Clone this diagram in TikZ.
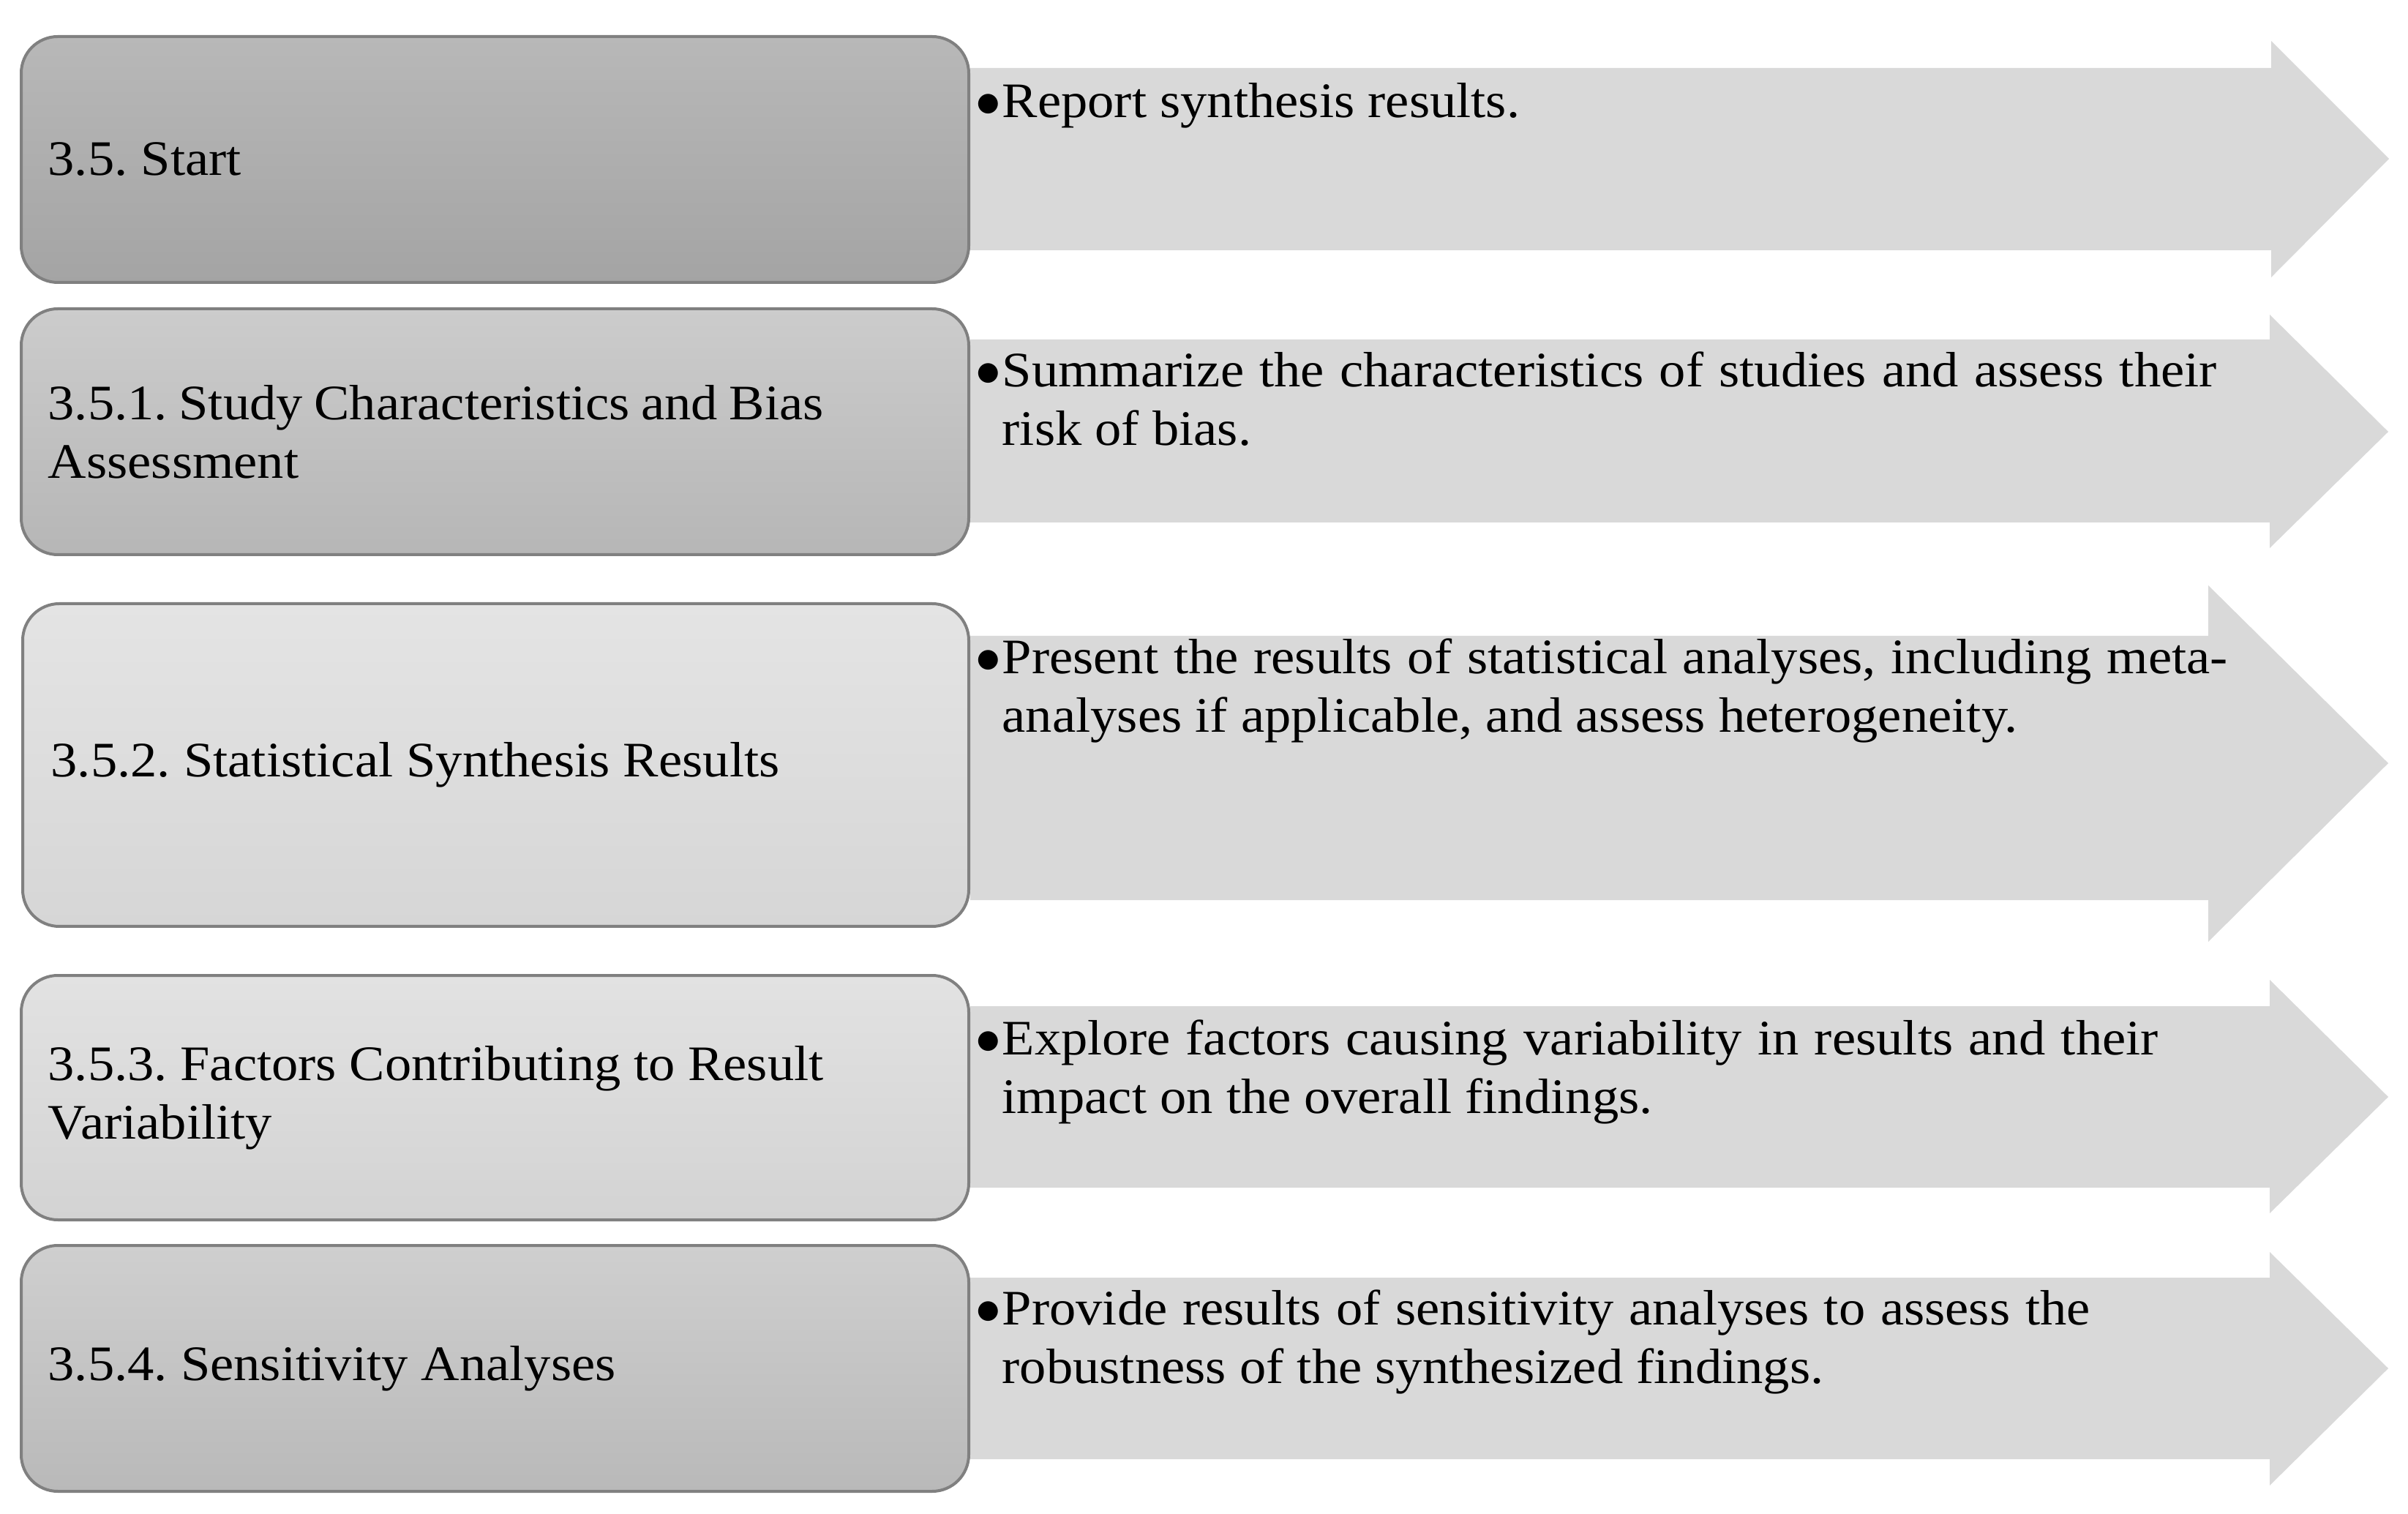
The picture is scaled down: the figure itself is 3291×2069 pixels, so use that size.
\documentclass[tikz,border=0pt]{standalone}
\usepackage{fontspec}
\setmainfont{Liberation Serif}[FakeStretch=1.07]
\newcommand\mainfs{\fontsize{19.3}{22.76}\selectfont\frenchspacing}
\newcommand\bigbul{\makebox[3.2mm][l]{\hspace*{-0.4mm}\raisebox{0.02em}{\scalebox{0.95}{$\bullet$}}}}
\definecolor{boxline}{HTML}{808080}
\definecolor{arrowgray}{HTML}{D9D9D9}
\definecolor{ga}{HTML}{B8B8B8}
\definecolor{gb}{HTML}{A4A4A4}
\definecolor{gc}{HTML}{CCCCCC}
\definecolor{gd}{HTML}{B6B6B6}
\definecolor{ge}{HTML}{E4E4E4}
\definecolor{gf}{HTML}{D6D6D6}
\definecolor{gg}{HTML}{E2E2E2}
\definecolor{gh}{HTML}{D3D3D3}
\definecolor{gi}{HTML}{CFCFCF}
\definecolor{gj}{HTML}{B9B9B9}
\begin{document}
\begin{tikzpicture}[x=0.1mm,y=-0.1mm,
  box/.style={draw=boxline, line width=0.4mm, rounded corners=5mm, anchor=north west, minimum width=129.5mm, inner sep=0},
  lbl/.style={anchor=west, inner sep=0, font=\mainfs, text width=106mm, align=justify},
  bul/.style={anchor=north west, inner sep=0, font=\mainfs}]
\useasboundingbox[fill=white] (0,0) rectangle (3291,2069);
% arrows
\fill[arrowgray] (1326,93) -- (3104,93) -- (3104,56) -- (3265,217) -- (3104,379) -- (3104,342) -- (1326,342) -- cycle;
\fill[arrowgray] (1326,464) -- (3102,464) -- (3102,430) -- (3264,590) -- (3102,749) -- (3102,714) -- (1326,714) -- cycle;
\fill[arrowgray] (1326,869) -- (3018,869) -- (3018,800) -- (3264,1043) -- (3018,1287) -- (3018,1230) -- (1326,1230) -- cycle;
\fill[arrowgray] (1326,1375) -- (3102,1375) -- (3102,1339) -- (3264,1499) -- (3102,1658) -- (3102,1623) -- (1326,1623) -- cycle;
\fill[arrowgray] (1326,1746) -- (3102,1746) -- (3102,1711) -- (3264,1870) -- (3102,2030) -- (3102,1994) -- (1326,1994) -- cycle;
% boxes
\node[box, top color=ga, bottom color=gb, minimum height=33.6mm] (b1) at (27,48) {};
\node[box, top color=gc, bottom color=gd, minimum height=33.6mm] (b2) at (27,420) {};
\node[box, top color=ge, bottom color=gf, minimum height=44.1mm, minimum width=129.3mm] (b3) at (29,823) {};
\node[box, top color=gg, bottom color=gh, minimum height=33.4mm] (b4) at (27,1331) {};
\node[box, top color=gi, bottom color=gj, minimum height=33.6mm] (b5) at (27,1700) {};
% box labels
\node[lbl] (t1) at ([xshift=3.8mm]b1.west) {3.5. Start};
\node[lbl] (t2) at ([xshift=3.8mm]b2.west) {3.5.1. Study Characteristics and Bias\linebreak Assessment};
\node[lbl] (t3) at ([xshift=4.0mm]b3.west) {3.5.2. Statistical Synthesis Results};
\node[lbl] (t4) at ([xshift=3.8mm]b4.west) {3.5.3. Factors Contributing to Result\linebreak Variability};
\node[lbl] (t5) at ([xshift=3.8mm]b5.west) {3.5.4. Sensitivity Analyses};
% arrow texts
\node[bul] (d1) at (1337,104) {\bigbul\parbox[t]{166mm}{\strut Report synthesis results.}};
\node[bul] (d2) at (1337,472) {\bigbul\parbox[t]{166mm}{\strut Summarize the characteristics of studies and assess their\linebreak risk of bias.}};
\node[bul] (d3) at (1337,864) {\bigbul\parbox[t]{167.5mm}{\strut Present the results of statistical analyses, including meta-\linebreak analyses if applicable, and assess heterogeneity.}};
\node[bul] (d4) at (1337,1385) {\bigbul\parbox[t]{158mm}{\strut Explore factors causing variability in results and their\linebreak impact on the overall findings.}};
\node[bul] (d5) at (1337,1754) {\bigbul\parbox[t]{148.7mm}{\strut Provide results of sensitivity analyses to assess the\linebreak robustness of the synthesized findings.}};
\end{tikzpicture}
\end{document}
